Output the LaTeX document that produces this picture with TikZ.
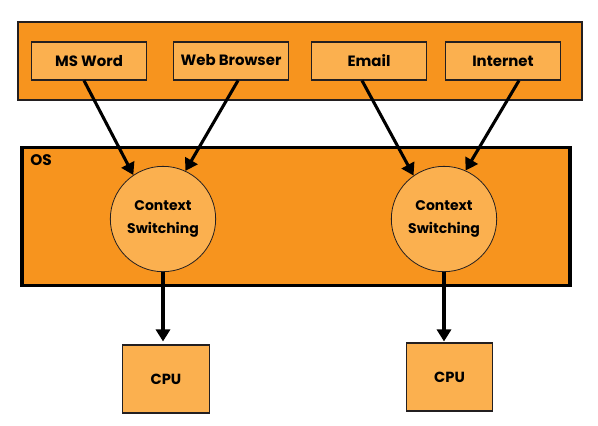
\documentclass[tikz,border=0pt]{standalone}
\usepackage{fontspec}
\setmainfont{Poppins}
\usetikzlibrary{arrows.meta,calc}
\definecolor{orangeA}{HTML}{F7941E}
\definecolor{orangeB}{HTML}{FBB04F}
\definecolor{edge}{HTML}{231F20}
\begin{document}
\begin{tikzpicture}[x=0.75pt,y=-0.75pt,
  app/.style={draw=edge,line width=0.8pt,fill=orangeB,minimum width=86pt,minimum height=28.5pt,inner sep=0pt,font=\fontsize{11.2}{13}\selectfont\bfseries},
  cpu/.style={draw=edge,line width=0.8pt,fill=orangeB,minimum width=65pt,minimum height=51pt,inner sep=0pt,font=\fontsize{11}{13}\selectfont\bfseries},
  cs/.style={circle,draw=edge,line width=0.6pt,fill=orangeB,minimum size=79pt,inner sep=0pt,align=center,font=\fontsize{10.5}{17}\selectfont\bfseries},
  link/.style={line width=2.3pt,-{Triangle[length=9pt,width=10.5pt]}}]
\useasboundingbox (0,0) rectangle (598,425);
\fill[white] (0,0) rectangle (598,425);
% top panel
\node[draw=edge,line width=1pt,fill=orangeA,minimum width=423pt,minimum height=58.5pt,inner sep=0pt] (apps) at (300,61) {};
\node[app] (msword) at (89,61) {MS Word};
\node[app] (web) at (231,61) {\raisebox{2pt}{Web Browser}};
\node[app] (email) at (369,61) {Email};
\node[app] (inet) at (503,61) {Internet};
% OS panel
\node[draw=black,line width=2.4pt,fill=orangeA,minimum width=411pt,minimum height=104pt,inner sep=0pt] (os) at (296,216.5) {};
\node[anchor=north west,inner sep=0pt,font=\fontsize{11.5}{13}\selectfont\bfseries] (oslbl) at (30,154) {OS};
\node[cs] (cs1) at (163,219) {Context\\Switching};
\node[cs] (cs2) at (444,219) {Context\\Switching};
% CPUs
\node[cpu] (cpu1) at (166,379) {CPU};
\node[cpu] (cpu2) at (449.5,377) {CPU};
% arrows
\draw[link] ($(msword.south)+(-5,0)$) -- (cs1.124);
\draw[link] ($(web.south)+(7,0)$) -- (cs1.65);
\draw[link] ($(email.south)+(-7,0)$) -- (cs2.125);
\draw[link] ($(inet.south)+(16,0)$) -- (cs2.66);
\draw[link] (cs1.south) -- ($(cs1.south |- cpu1.north)+(0,-3)$);
\draw[link] (cs2.south) -- ($(cs2.south |- cpu2.north)+(0,-1)$);
\end{tikzpicture}
\end{document}
